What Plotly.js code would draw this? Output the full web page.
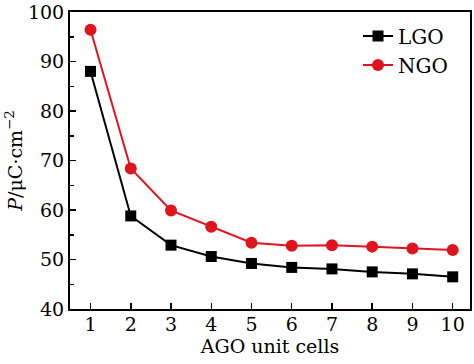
<!DOCTYPE html>
<html><head><meta charset="utf-8">
<script src="https://cdn.plot.ly/plotly-3.0.1.min.js"></script>
<style>body{margin:0;background:#fff}#chart{width:474px;height:364px}</style>
</head><body><div id="chart"></div>
<script>
const cells = [1, 2, 3, 4, 5, 6, 7, 8, 9, 10];
const lgo = [88.0, 58.8, 52.9, 50.6, 49.2, 48.4, 48.1, 47.5, 47.1, 46.5];
const ngo = [96.4, 68.4, 59.9, 56.6, 53.4, 52.8, 52.9, 52.6, 52.2, 51.9];
const xTicks = [1, 2, 3, 4, 5, 6, 7, 8, 9, 10];
const yTicks = [40, 50, 60, 70, 80, 90, 100];

const fnt = "DejaVu Serif, Liberation Serif, serif";
const traces = [
  {x: cells, y: lgo, name: 'LGO', type: 'scatter', mode: 'lines+markers',
   line: {color: '#000000', width: 2}, marker: {symbol: 'square', size: 11, color: '#000000'}},
  {x: cells, y: ngo, name: 'NGO', type: 'scatter', mode: 'lines+markers',
   line: {color: '#e0141e', width: 2}, marker: {symbol: 'circle', size: 12, color: '#e0141e'}}
];
const layout = {
  width: 474, height: 364,
  margin: {l: 70, r: 4, t: 12, b: 55},
  paper_bgcolor: '#ffffff', plot_bgcolor: '#ffffff',
  font: {family: fnt, size: 19, color: '#000000'},
  showlegend: true,
  legend: {x: 0.72, xanchor: 'left', y: 0.985, yanchor: 'top', bgcolor: 'rgba(0,0,0,0)',
           font: {family: fnt, size: 20}, tracegroupgap: 0},
  xaxis: {range: [0.49, 10.43], tickvals: xTicks, ticktext: xTicks.map(String),
          ticks: 'inside', ticklen: 6, tickwidth: 1.5, tickcolor: '#000', ticklabelstandoff: -3,
          showline: true, linewidth: 2, linecolor: '#000', mirror: true,
          showgrid: false, zeroline: false, tickfont: {family: fnt, size: 19},
          title: {text: 'AGO unit cells', font: {family: fnt, size: 19}, standoff: 0}},
  yaxis: {range: [40, 100], tickvals: yTicks, ticktext: yTicks.map(String),
          ticks: 'inside', ticklen: 6, tickwidth: 1.5, tickcolor: '#000',
          minor: {dtick: 5, ticks: 'inside', ticklen: 4, tickwidth: 1.5, tickcolor: '#000', showgrid: false},
          showline: true, linewidth: 2, linecolor: '#000', mirror: true,
          showgrid: false, zeroline: false, tickfont: {family: fnt, size: 19},
          title: {text: '<i>P</i>/μC·cm<sup>−2</sup>', font: {family: fnt, size: 19}, standoff: 0}}
};
Plotly.newPlot('chart', traces, layout, {displayModeBar: false, staticPlot: true});
</script></body></html>
